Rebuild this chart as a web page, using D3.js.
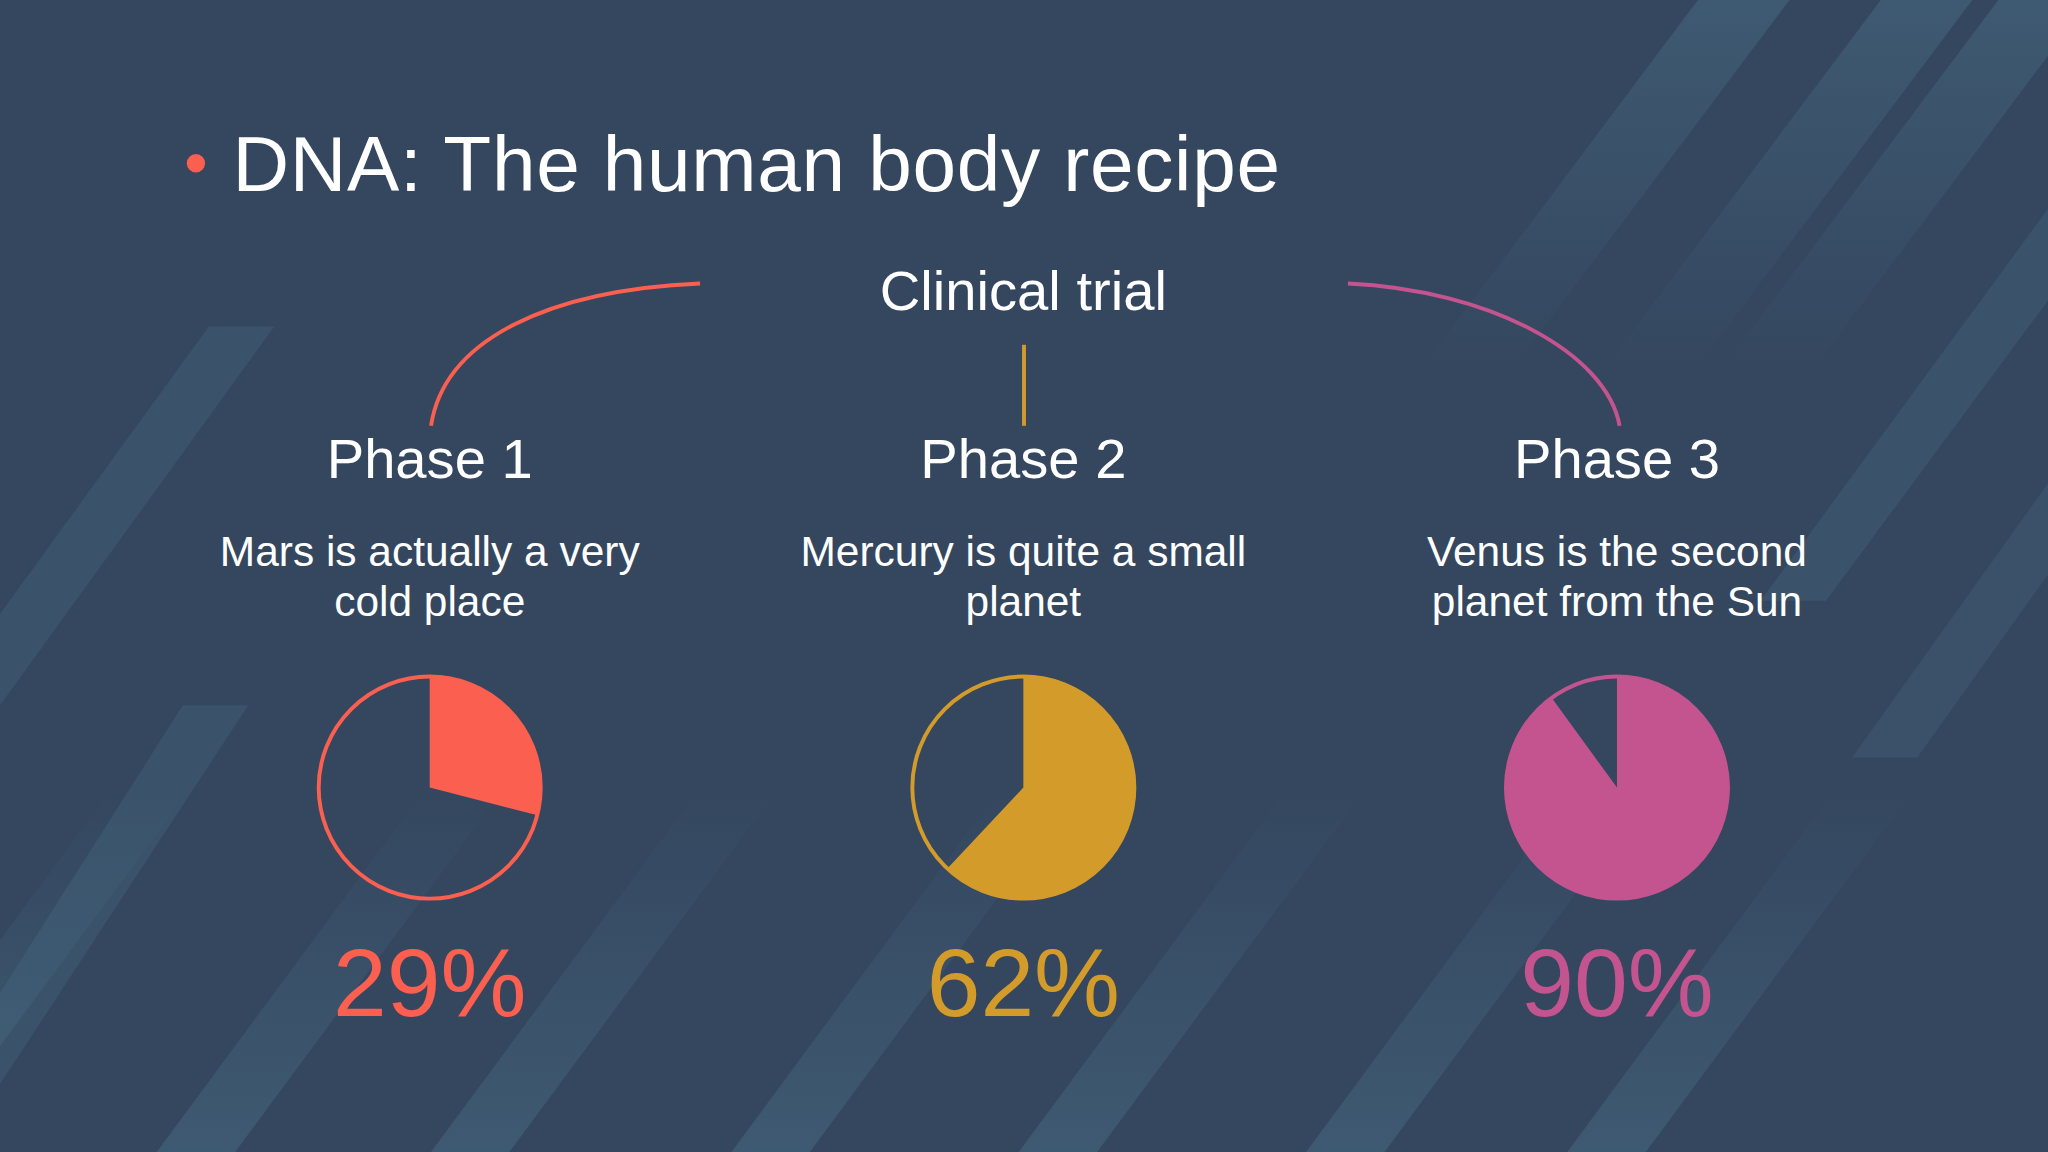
<!DOCTYPE html>
<html><head><meta charset="utf-8">
<script src="https://cdn.jsdelivr.net/npm/d3@7"></script>
<style>body{margin:0;background:#34475f;overflow:hidden}svg{display:block}</style>
</head><body>
<script>
// data
const phases = ["Phase 1", "Phase 2", "Phase 3"];
const descLines = [["Mars is actually a very", "cold place"], ["Mercury is quite a small", "planet"], ["Venus is the second", "planet from the Sun"]];
const values = [29, 62, 90];
const colors = ["#fb5f4f", "#d39b2a", "#c4548f"];

const W = 1568, H = 882;
const svg = d3.select("body").append("svg")
    .attr("width", 2048).attr("height", 1152)
    .attr("viewBox", `0 0 ${W} ${H}`);
const font = "Liberation Sans, Arial, sans-serif";

// background
svg.append("rect").attr("width", W).attr("height", H).attr("fill", "#34475f");
const defs = svg.append("defs");
const grad = defs.append("linearGradient").attr("id", "fade").attr("x1", 0).attr("y1", 1).attr("x2", 0).attr("y2", 0);
grad.append("stop").attr("offset", 0).attr("stop-color", "#4a7088").attr("stop-opacity", 0.45);
grad.append("stop").attr("offset", 0.6).attr("stop-color", "#4a7088").attr("stop-opacity", 0);
const grad2 = defs.append("linearGradient").attr("id", "fade2").attr("x1", 0).attr("y1", 0).attr("x2", 0).attr("y2", 1);
grad2.append("stop").attr("offset", 0).attr("stop-color", "#4a7088").attr("stop-opacity", 0.45);
grad2.append("stop").attr("offset", 0.7).attr("stop-color", "#4a7088").attr("stop-opacity", 0);
// diagonal stripes (bottom-left and top-right)
const stripesBottom = [-120, 120, 330, 560, 780, 1000, 1200];
stripesBottom.forEach(x0 => {
  svg.append("path").attr("d", `M${x0},${H} L${x0+60},${H} L${x0+60+340},${H-460} L${x0+340},${H-460}Z`)
    .attr("fill", "url(#fade)");
});
const leftStripes = [[0, 250, 160, 0, 520], [0, 540, 140, 0, 720]];
leftStripes.forEach(([a, y0, w, b, y1]) => {
  svg.append("path").attr("d", `M0,${y0+220} L${w},${y0} L${w+50},${y0} L0,${y0+290}Z`).attr("fill", "#4a7088").attr("fill-opacity", 0.3);
});
const stripesTop = [1300, 1440, 1530];
stripesTop.forEach(x0 => {
  svg.append("path").attr("d", `M${x0},${0} L${x0+70},0 L${x0+70-300},${400} L${x0-300},${400}Z`)
    .attr("fill", "url(#fade2)");
});
svg.append("path").attr("d", `M${W},160 L${W},230 L${W-170},460 L${W-220},460Z`).attr("fill", "#4a7088").attr("fill-opacity", 0.3);
svg.append("path").attr("d", `M${W},370 L${W},440 L${W-100},580 L${W-150},580Z`).attr("fill", "#4a7088").attr("fill-opacity", 0.25);

// title
svg.append("circle").attr("cx", 150).attr("cy", 125).attr("r", 7).attr("fill", colors[0]);
svg.append("text").attr("x", 178).attr("y", 146).attr("font-family", font).attr("font-size", 60)
  .attr("textLength", 802).attr("fill", "#fff").text("DNA: The human body recipe");

const x = d3.scalePoint().domain(phases).range([329, 1238]);

svg.append("text").attr("x", x(phases[1])).attr("y", 237).attr("text-anchor", "middle")
  .attr("font-family", font).attr("font-size", 43).attr("fill", "#fff").text("Clinical trial");

// connectors
svg.append("path").attr("d", `M536,217 C420,222 340,260 330,326`).attr("fill", "none").attr("stroke", colors[0]).attr("stroke-width", 3);
svg.append("line").attr("x1", 784).attr("x2", 784).attr("y1", 264).attr("y2", 326).attr("stroke", colors[1]).attr("stroke-width", 3);
svg.append("path").attr("d", `M1032,217 C1140,222 1230,270 1240,326`).attr("fill", "none").attr("stroke", colors[2]).attr("stroke-width", 3);

const arc = d3.arc().innerRadius(0).outerRadius(86);
const g = svg.selectAll("g.phase").data(phases).join("g").attr("class", "phase")
  .attr("transform", d => `translate(${x(d)},0)`);

g.append("text").attr("y", 366).attr("text-anchor", "middle").attr("font-family", font)
  .attr("font-size", 43).attr("fill", "#fff").text(d => d);

g.each(function(d, i) {
  const t = d3.select(this).append("text").attr("text-anchor", "middle").attr("font-family", font)
    .attr("font-size", 32.5).attr("fill", "#fff");
  descLines[i].forEach((l, j) => t.append("tspan").attr("x", 0).attr("y", 433 + j * 39).text(l));

  const pg = d3.select(this).append("g").attr("transform", "translate(0,603)");
  pg.append("circle").attr("r", 85).attr("fill", "none").attr("stroke", colors[i]).attr("stroke-width", 3);
  const pie = d3.pie().sort(null)([values[i], 100 - values[i]]);
  pg.append("path").attr("d", arc(pie[0])).attr("fill", colors[i]);

  d3.select(this).append("text").attr("y", 778).attr("text-anchor", "middle").attr("font-family", font)
    .attr("font-size", 74).attr("fill", colors[i]).text(values[i] + "%");
});
</script>
</body></html>
